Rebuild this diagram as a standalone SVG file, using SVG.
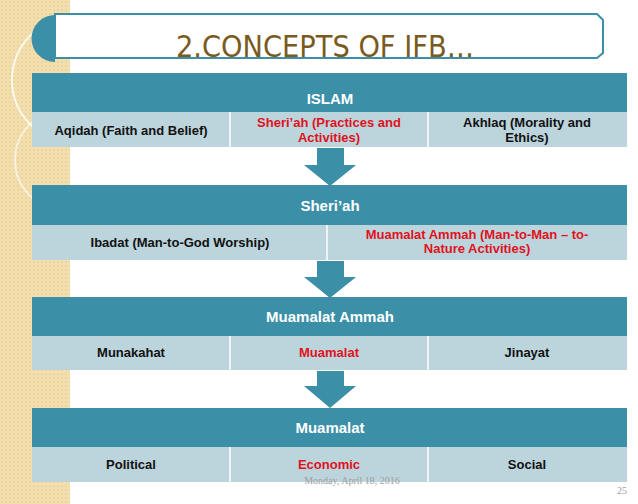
<svg xmlns="http://www.w3.org/2000/svg" width="638" height="504" viewBox="0 0 638 504">
<defs>
<pattern id="dots" width="4" height="4" patternUnits="userSpaceOnUse"><rect width="4" height="4" fill="#f3dfae"/><circle cx="2" cy="2" r="0.8" fill="#e2c98c"/></pattern>
<style>
.hd{fill:#3b8fa7}
.rw{fill:#bcd4dc}
.sep{stroke:#ffffff;stroke-width:1.5}
.ht{font-family:"Liberation Sans",Arial,sans-serif;font-weight:bold;fill:#ffffff;text-anchor:middle;font-size:15px}
.ct{font-family:"Liberation Sans",Arial,sans-serif;font-weight:bold;fill:#111111;text-anchor:middle;font-size:13px}
.red{fill:#e0121d}
.arr{fill:#3b8fa7}
</style>
</defs>
<rect width="638" height="504" fill="#ffffff"/>
<rect x="0" y="0" width="70" height="504" fill="url(#dots)"/>
<circle cx="75" cy="80" r="63" fill="none" stroke="#ffffff" stroke-width="2" opacity="0.8"/>
<circle cx="65" cy="160" r="50" fill="none" stroke="#ffffff" stroke-width="2" opacity="0.6"/>
<g id="title">
<path d="M55,15 A22,22 0 0 0 55,62 Z" fill="#3b8fa7"/>
<path d="M55,14 H597 L603,20 V53 L597,58 H55 Z" fill="#ffffff" stroke="#3b8fa7" stroke-width="2"/>
<text x="325" y="57" font-family="'Liberation Sans Narrow','DejaVu Sans Condensed',sans-serif" font-size="30" fill="#7a5a1e" text-anchor="middle" textLength="298" lengthAdjust="spacingAndGlyphs">2.CONCEPTS  OF IFB…</text>
</g>
<g id="islam">
<rect class="hd" x="32" y="73" width="595" height="39"/>
<rect class="rw" x="32" y="112" width="595" height="35"/>
<line class="sep" x1="230" y1="112" x2="230" y2="147"/><line class="sep" x1="428" y1="112" x2="428" y2="147"/>
<text class="ht" x="330" y="104" font-size="28">ISLAM</text>
<text class="ct" x="131" y="135">Aqidah (Faith and Belief)</text>
<text class="ct red" x="329" y="127">Sheri’ah (Practices and</text>
<text class="ct red" x="329" y="142">Activities)</text>
<text class="ct" x="527" y="127">Akhlaq (Morality and</text>
<text class="ct" x="527" y="142">Ethics)</text>
</g>
<g id="sheriah">
<rect class="hd" x="32" y="185" width="595" height="40"/>
<rect class="rw" x="32" y="225" width="595" height="35"/>
<line class="sep" x1="327" y1="225" x2="327" y2="260"/>
<text class="ht" x="330" y="211">Sheri’ah</text>
<text class="ct" x="180" y="247">Ibadat (Man-to-God Worship)</text>
<text class="ct red" x="477" y="239">Muamalat Ammah (Man-to-Man – to-</text>
<text class="ct red" x="477" y="253">Nature Activities)</text>
</g>
<g id="ammah">
<rect class="hd" x="32" y="297" width="595" height="39"/>
<rect class="rw" x="32" y="336" width="595" height="34"/>
<line class="sep" x1="230" y1="336" x2="230" y2="370"/><line class="sep" x1="428" y1="336" x2="428" y2="370"/>
<text class="ht" x="330" y="322">Muamalat Ammah</text>
<text class="ct" x="131" y="357">Munakahat</text>
<text class="ct red" x="329" y="357">Muamalat</text>
<text class="ct" x="527" y="357">Jinayat</text>
</g>
<g id="muamalat">
<rect class="hd" x="32" y="408" width="595" height="39"/>
<rect class="rw" x="32" y="447" width="595" height="35"/>
<line class="sep" x1="230" y1="447" x2="230" y2="482"/><line class="sep" x1="428" y1="447" x2="428" y2="482"/>
<text class="ht" x="330" y="433">Muamalat</text>
<text class="ct" x="131" y="469">Political</text>
<text class="ct red" x="329" y="469">Economic</text>
<text class="ct" x="527" y="469">Social</text>
</g>
<g id="connectors">
<path class="arr" d="M317,148 H344 V165 H356 L330,186 L304,165 H317 Z"/>
<path class="arr" d="M317,261 H344 V277 H356 L330,298 L304,277 H317 Z"/>
<path class="arr" d="M317,371 H344 V386 H356 L330,408 L304,386 H317 Z"/>
</g>
<text x="352" y="484" font-family="'Liberation Serif',serif" font-size="10" fill="#a0a0a0" text-anchor="middle">Monday, April 18, 2016</text>
<text x="627" y="494" font-family="'Liberation Serif',serif" font-size="10" fill="#a0a0a0" text-anchor="end">25</text>
</svg>
